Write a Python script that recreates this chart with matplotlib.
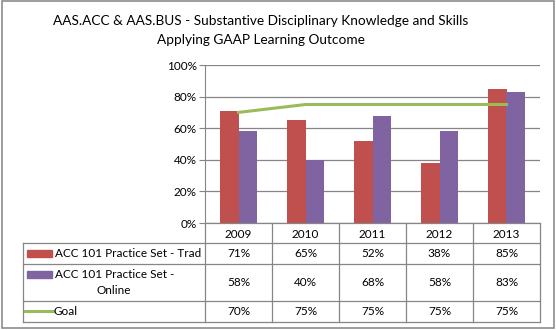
import matplotlib
matplotlib.use("Agg")
import matplotlib.pyplot as plt
from matplotlib.patches import Rectangle
import numpy as np

# chart data
years = ["2009", "2010", "2011", "2012", "2013"]
trad = [0.71, 0.65, 0.52, 0.38, 0.85]
online = [0.58, 0.40, 0.68, 0.58, 0.83]
goal = [0.70, 0.75, 0.75, 0.75, 0.75]
yticks = [0, 0.2, 0.4, 0.6, 0.8, 1.0]

RED = "#C0504D"
PURPLE = "#8064A2"
GREEN = "#9BBB59"
GRID = "#868686"

W, H = 556, 330
plt.rcParams['font.family'] = ['Lato', 'DejaVu Sans']

fig = plt.figure(figsize=(W / 100, H / 100), dpi=100)

# plot area in pixel coords
left, right, top, bottom = 205, 540, 65, 223
ax = fig.add_axes([left / W, 1 - bottom / H, (right - left) / W, (bottom - top) / H])
x = np.arange(len(years))
bw = 0.28
ax.bar(x - bw / 2, trad, bw, color=RED, zorder=3)
ax.bar(x + bw / 2, online, bw, color=PURPLE, zorder=3)
ax.plot(x, goal, color=GREEN, lw=2.2, zorder=4)
ax.set_xlim(-0.5, len(years) - 0.5)
ax.set_ylim(0, 1)
ax.set_yticks(yticks)
ax.set_yticklabels([f"{int(round(v * 100))}%" for v in yticks], fontsize=8.5)
ax.set_xticks([])
ax.yaxis.grid(True, color=GRID, lw=0.9, zorder=0)
for s in ["top", "right", "bottom"]:
    ax.spines[s].set_visible(False)
ax.spines["left"].set_color(GRID)
ax.tick_params(axis="y", length=4, color=GRID, pad=2)

# overlay axes in pixel coords for the data table
ov = fig.add_axes([0, 0, 1, 1])
ov.set_xlim(0, W)
ov.set_ylim(H, 0)
ov.axis("off")
ov.patch.set_alpha(0)

tl = 23
row_y = [223, 243, 264, 301, 322]
colw = (right - left) / len(years)
col_x = [left + colw * k for k in range(len(years) + 1)]
lc = dict(color=GRID, lw=0.9)

# horizontal table lines
ov.plot([left, right], [row_y[0], row_y[0]], **lc)
for yy in row_y[1:]:
    ov.plot([tl, right], [yy, yy], **lc)
# vertical table lines
for cx in col_x:
    ov.plot([cx, cx], [row_y[0], row_y[-1]], **lc)
ov.plot([tl, tl], [row_y[1], row_y[-1]], **lc)

fs = 8.5
for i, yr in enumerate(years):
    cx = (col_x[i] + col_x[i + 1]) / 2
    ov.text(cx, (row_y[0] + row_y[1]) / 2 + 1, yr, ha="center", va="center", fontsize=fs)
    ov.text(cx, (row_y[1] + row_y[2]) / 2, f"{int(round(trad[i] * 100))}%", ha="center", va="center", fontsize=fs)
    ov.text(cx, (row_y[2] + row_y[3]) / 2, f"{int(round(online[i] * 100))}%", ha="center", va="center", fontsize=fs)
    ov.text(cx, (row_y[3] + row_y[4]) / 2, f"{int(round(goal[i] * 100))}%", ha="center", va="center", fontsize=fs)

# legend keys + labels
ov.add_patch(Rectangle((27, 250), 25, 7, color=RED))
ov.text(55, (row_y[1] + row_y[2]) / 2, "ACC 101 Practice Set - Trad", ha="left", va="center", fontsize=fs)
ov.add_patch(Rectangle((27, 271), 25, 7, color=PURPLE))
ov.text(55, 275, "ACC 101 Practice Set -", ha="left", va="center", fontsize=fs)
ov.text(114, 291, "Online", ha="center", va="center", fontsize=fs)
ov.plot([25, 53], [311, 311], color=GREEN, lw=2.2)
ov.text(54, 311.5, "Goal", ha="left", va="center", fontsize=fs)

# title
ov.text(261, 21, "AAS.ACC & AAS.BUS - Substantive Disciplinary Knowledge and Skills",
        ha="center", va="center", fontsize=9.8)
ov.text(261, 40, "Applying GAAP Learning Outcome", ha="center", va="center", fontsize=9.8)

# outer border
ov.add_patch(Rectangle((2, 1), W - 4, H - 3, fill=False, edgecolor="#8c8c8c", lw=1.2))

fig.savefig("out.png", dpi=100)
